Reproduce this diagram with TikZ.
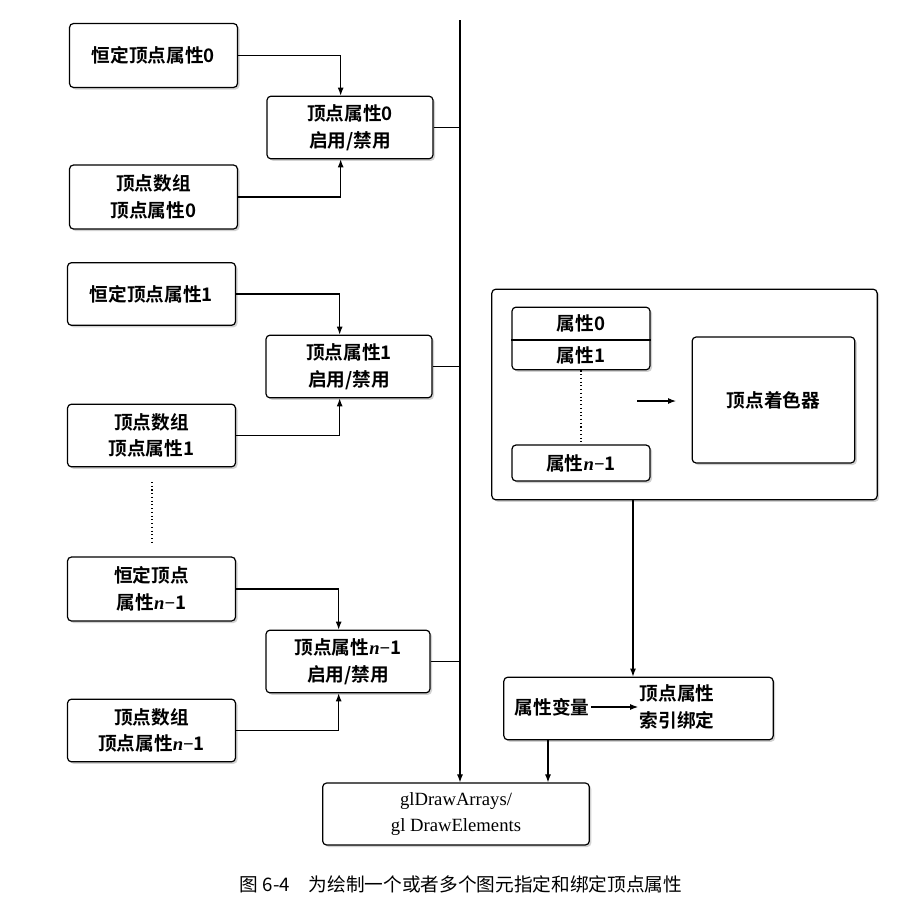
\documentclass[tikz,border=0pt]{standalone}
\usepackage{fontspec}
\setmainfont{Liberation Serif}
\newfontfamily\cjk{Noto Sans CJK SC}[BoldFont={* Bold}]
\newfontfamily\cjkr{Noto Sans CJK SC}
\usetikzlibrary{arrows.meta,shadows,calc}
\begin{document}
\begin{tikzpicture}[x=0.75pt,y=-0.75pt,
  box/.style={draw,line width=0.9pt,rounded corners=3pt,fill=white,align=center,
    font=\cjk\bfseries\fontsize{14pt}{20pt}\selectfont,inner sep=1pt,
    drop shadow={shadow xshift=1.5pt,shadow yshift=-1.5pt,opacity=0.35}},
  conn/.style={line width=0.8pt},
  arr/.style={conn,-{Latex[length=6pt,width=4.5pt]}},
  lbl/.style={font=\cjk\bfseries\fontsize{14pt}{20pt}\selectfont,align=center,inner sep=1pt}]
\path[use as bounding box,fill=white] (0,0) rectangle (922,914);
% left column
\node[box,minimum width=126pt,minimum height=48pt] (A0) at (153.5,55.5) {恒定顶点属性0};
\node[box,minimum width=126pt,minimum height=48pt] (V0) at (153.5,197) {顶点数组\\顶点属性0};
\node[box,minimum width=124.5pt,minimum height=47pt] (E0) at (350,127.5) {顶点属性0\\启用/禁用};
\node[box,minimum width=126pt,minimum height=47pt] (A1) at (151.5,294) {恒定顶点属性1};
\node[box,minimum width=126pt,minimum height=47pt] (V1) at (151.5,435.5) {顶点数组\\顶点属性1};
\node[box,minimum width=124.5pt,minimum height=47pt] (E1) at (349,366.5) {顶点属性1\\启用/禁用};
\node[box,minimum width=126pt,minimum height=48pt] (An) at (151.5,589) {恒定顶点\\属性{\rmfamily\itshape n}{\rmfamily\bfseries −}1};
\node[box,minimum width=126pt,minimum height=47pt] (Vn) at (151.5,730.5) {顶点数组\\顶点属性{\rmfamily\itshape n}{\rmfamily\bfseries −}1};
\node[box,minimum width=123pt,minimum height=47pt] (En) at (348,661.5) {顶点属性{\rmfamily\itshape n}{\rmfamily\bfseries −}1\\启用/禁用};
\coordinate (d1) at (152,482); \coordinate (d2) at (152,545);
\draw[conn,dotted,line width=1pt] (d1) -- (d2);
% bottom
\node[box,minimum width=200pt,minimum height=46.5pt,font=\rmfamily\fontsize{14pt}{20pt}\selectfont] (glD) at (456,814) {glDrawArrays/\\gl DrawElements};
% bus
\coordinate (bus) at (460,20);
\draw[arr] (bus) -- (bus |- glD.north);
\foreach \e in {E0,E1,En} \draw[conn] (\e.east) -- (\e.east -| bus);
\foreach \a/\v/\e in {A0/V0/E0,A1/V1/E1,An/Vn/En}{
  \coordinate (t\e) at ([xshift=-7pt]\e.north);
  \draw[arr] (\a.east) -| (t\e);
  \draw[arr] (\v.east) -| (t\e |- \e.south);
}
% right big box
\node[box,minimum width=289pt,minimum height=158pt] (big) at (684.5,394.5) {};
\node[box,minimum width=103.5pt,minimum height=47pt] (pp) at (581,338.5) {};
\node[lbl] (p0) at (581,323.5) {属性0};
\node[lbl] (p1) at (581,355) {属性1};
\coordinate (pd) at (0,340);
\draw[line width=0.9pt] (pp.west |- pd) -- (pp.east |- pd);
\node[box,minimum width=103.5pt,minimum height=27pt] (pn) at (581,463) {属性{\rmfamily\itshape n}{\rmfamily\bfseries −}1};
\draw[conn,dotted,line width=1.2pt] (pp.south) -- (pn.north);
\node[box,minimum width=122pt,minimum height=94.5pt] (sh) at (773.5,400) {顶点着色器};
\coordinate (s1) at (637,401); \coordinate (s2) at (676,401);
\draw[arr] (s1) -- (s2);
% bind box
\node[box,minimum width=202pt,minimum height=47pt] (bind) at (638.5,708.5) {};
\node[lbl] (pv) at (552,707) {属性变量};
\node[lbl] (vb) at (677,707) {顶点属性\\索引绑定};
\draw[arr] (pv.east) -- (vb.west |- pv.east);
\coordinate (c1) at (633,0);
\draw[arr] (c1 |- big.south) -- (c1 |- bind.north);
\coordinate (c2) at (548,0);
\draw[arr] (c2 |- bind.south) -- (c2 |- glD.north);
% caption
\node[font=\cjkr\fontsize{14pt}{18pt}\selectfont,inner sep=0pt] (cap) at (461,884) {图 6-4\hspace{14pt}为绘制一个或者多个图元指定和绑定顶点属性};
\end{tikzpicture}
\end{document}
